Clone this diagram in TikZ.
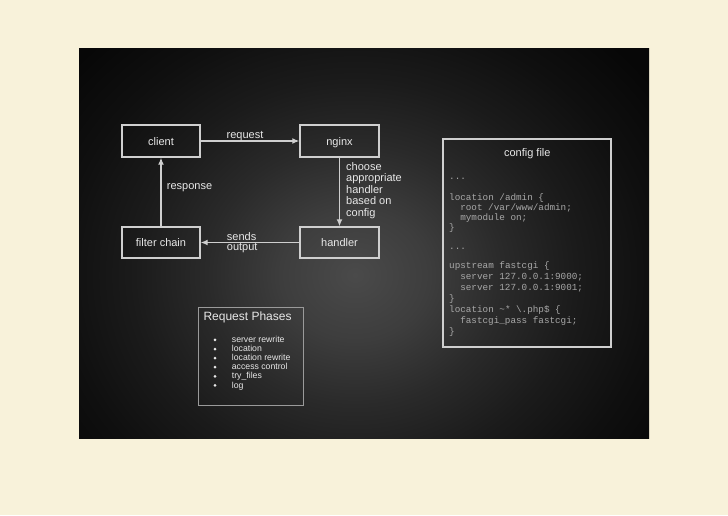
\documentclass[tikz,border=0pt]{standalone}
\usepackage{fontspec}
\setmainfont{Liberation Sans}
\setmonofont{Liberation Mono}
\usetikzlibrary{arrows.meta}
\definecolor{cream}{HTML}{F8F2DA}
\definecolor{boxc}{HTML}{CFCFCF}
\definecolor{phasec}{HTML}{9A9A9A}
\definecolor{txt}{HTML}{E8E8E8}
\definecolor{codec}{HTML}{A8A8A8}
\definecolor{bgdark}{HTML}{070707}
\pgfdeclareradialshading{bgshade}{\pgfpoint{0bp}{0bp}}{rgb(0bp)=(0.29,0.29,0.29); rgb(5bp)=(0.24,0.24,0.24); rgb(10bp)=(0.165,0.165,0.165); rgb(15bp)=(0.105,0.105,0.105); rgb(20bp)=(0.06,0.06,0.06); rgb(25bp)=(0.027,0.027,0.027); rgb(50bp)=(0.027,0.027,0.027)}
\tikzset{
  box/.style={draw=boxc, line width=1.4pt, minimum width=78pt, minimum height=32pt,
    text=txt, font=\fontsize{11}{13}\selectfont, inner sep=0pt, text height=8pt, text depth=0pt},
  panel/.style={draw=boxc, line width=1.4pt, inner sep=0pt},
  arr/.style={draw=boxc, line width=1.3pt, -{Latex[length=7pt,width=6pt]}},
  lbl/.style={text=txt, font=\fontsize{11}{13}\selectfont, inner sep=0pt},
  item/.style={text=txt, font=\fontsize{8.7}{10}\selectfont, inner sep=0pt, anchor=base west},
  code/.style={text=codec, font=\fontsize{9.3}{10}\ttfamily, inner sep=0pt, anchor=base west},
}
\begin{document}
\begin{tikzpicture}[x=1pt,y=-1pt]
\useasboundingbox (0,0) rectangle (728,515);
\fill[cream] (0,0) rectangle (728,515);
\begin{scope}
  \clip (79,48) rectangle (649,438);
  \fill[bgdark] (79,48) rectangle (649,438);
  \shade[shading=bgshade] (-15,-50) rectangle (725,600);
\end{scope}

% main flow boxes
\node[box] (client) at (161,141) {client};
\node[box, minimum width=79pt] (nginx) at (339.5,141) {nginx};
\node[box, minimum height=31pt] (filter) at (161,242.5) {filter chain};
\node[box, minimum width=79pt, minimum height=31pt] (handler) at (339.5,242.5) {handler};

\draw[arr] (client.east) -- (nginx.west);
\draw[arr] (nginx.south) -- (handler.north);
\draw[arr] (handler.west) -- (filter.east);
\draw[arr] (filter.north) -- (client.south);

\node[lbl, anchor=base] (lreq) at (245,138.4) {request};
\node[lbl, anchor=base west] (lresp) at (166.7,189.5) {response};
\foreach \t [count=\i from 0] in {choose,appropriate,handler,based on,config}
  \node[lbl, anchor=base west] (ch\i) at (346,{170.5+11.4*\i}) {\t};
\node[lbl, anchor=base west] (lsends) at (226.7,240) {sends};
\node[lbl, anchor=base west] (lout) at (226.7,250.3) {output};

% config panel
\node[panel, minimum width=168pt, minimum height=208pt] (cfg) at (527,243) {};
\node[lbl, anchor=base] (cfgt) at (527.3,156) {config file};
\node[code] (c1) at (449,179) {...};
\node[code] (c2) at (449,200) {location /admin \{};
\node[code] (c3) at (460.1,210) {root /var/www/admin;};
\node[code] (c4) at (460.1,220) {mymodule on;};
\node[code] (c5) at (449,230) {\}};
\node[code] (c6) at (449,249) {...};
\node[code] (c7) at (449,268) {upstream fastcgi \{};
\node[code] (c8) at (460.1,279) {server 127.0.0.1:9000;};
\node[code] (c9) at (460.1,290) {server 127.0.0.1:9001;};
\node[code] (c10) at (449,301) {\}};
\node[code] (c11) at (449,312) {location \textasciitilde* \textbackslash.php\$ \{};
\node[code] (c12) at (460.1,323) {fastcgi\_pass fastcgi;};
\node[code] (c13) at (449,334) {\}};

% request phases panel
\node[draw=phasec, line width=1pt, inner sep=0pt, minimum width=105pt, minimum height=98pt] (ph) at (250.5,356) {};
\node[text=txt, font=\fontsize{12}{14}\selectfont, inner sep=0pt, anchor=base west] (pht) at (203.3,320) {Request Phases};
\foreach \t [count=\i from 0] in {server rewrite,location,location rewrite,access control,try\_files,log}{
  \fill[txt] (215,{342.5+9.1*\i-2.6}) circle (1.5pt);
  \node[item] (p\i) at (231.7,{342.5+9.1*\i}) {\t};
}
\end{tikzpicture}
\end{document}
